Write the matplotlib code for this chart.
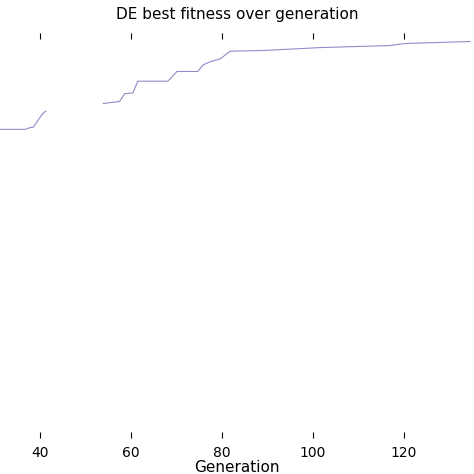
import numpy as np
import matplotlib
matplotlib.use("Agg")
import matplotlib.pyplot as plt

# generation and best fitness (arbitrary scale 0..1 of axes range)
gen = [31.2, 36.7, 38.0, 38.5, 40.5, 41.0, 41.3, np.nan, 53.9, 57.5, 58.6, 60.4, 61.5, 68.1, 70.1, 74.7, 75.8, 77.4, 79.6, 81.8, 89.5, 101.6, 116.9, 120.2, 134.5]
fit = [0.762, 0.762, 0.767, 0.767, 0.800, 0.805, 0.807, np.nan, 0.826, 0.831, 0.850, 0.852, 0.881, 0.881, 0.905, 0.905, 0.921, 0.929, 0.936, 0.955, 0.957, 0.964, 0.969, 0.974, 0.979]
xticks = [40, 60, 80, 100, 120]

fig = plt.figure(figsize=(4.74, 4.74), dpi=100)
ax = fig.add_axes([0, 36/474, 1, 405/474])
ax.plot(gen, fit, color='#8c8cc8', lw=0.8)
ax.set_xlim(31.2, 135.4)
ax.set_ylim(0, 1)
ax.set_xticks(xticks)
ax.set_yticks([])
ax.tick_params(axis='x', direction='in', top=True, bottom=True, length=4, labelsize=10, pad=6)
for s in ax.spines.values():
    s.set_visible(False)
ax.set_xlabel('Generation', fontsize=11, labelpad=0)
ax.set_title('DE best fitness over generation', fontsize=11, pad=10)
fig.savefig('out.png', dpi=100)
